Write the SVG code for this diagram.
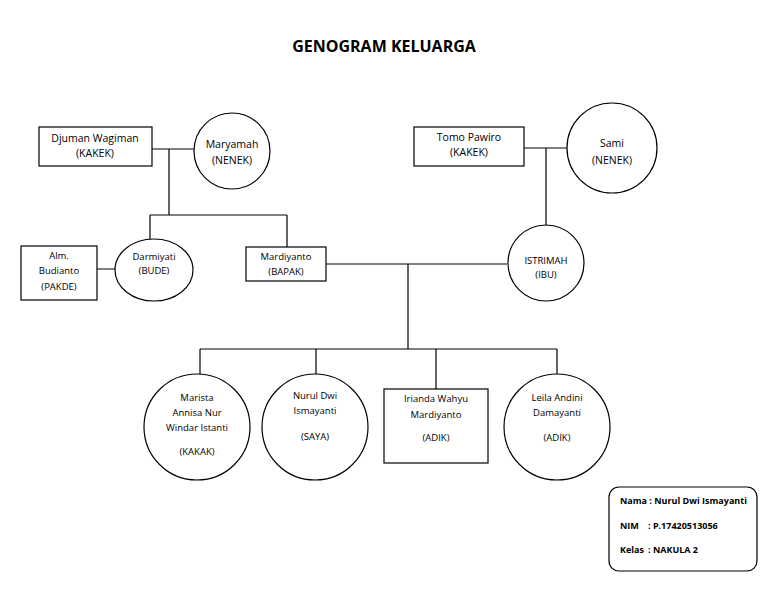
<svg xmlns="http://www.w3.org/2000/svg" width="768" height="594" viewBox="0 0 768 594">
<style>
.s{fill:#fff;stroke:#000;stroke-width:1.2}
.l{fill:none;stroke:#000;stroke-width:1.2}
text{font-family:"Open Sans","Liberation Sans",sans-serif;font-size:9.5px;text-anchor:middle;fill:#000}
.b{font-size:10.5px}
.t{font-size:16px;font-weight:bold}
.i{text-anchor:start;font-weight:bold;font-size:9px}
</style>
<rect width="768" height="594" fill="#fff"/>
<text class="t" x="384" y="52">GENOGRAM KELUARGA</text>
<g id="connectors">
<path class="l" d="M152 149H194M169 149V215M150 215H287M150 215V239M287 215V247M97 269H115"/>
<path class="l" d="M524 148H567M546 148V226M326 264H507M408 264V349M200 349H557M200 349V374M316 349V374M436 349V389M557 349V374"/>
</g>
<g id="djuman"><rect class="s" x="39" y="127" width="113" height="39"/><text class="b" x="95" y="142">Djuman Wagiman</text><text class="b" x="95" y="157">(KAKEK)</text></g>
<g id="maryamah"><circle class="s" cx="232" cy="151" r="38"/><text class="b" x="232" y="148">Maryamah</text><text class="b" x="232" y="164">(NENEK)</text></g>
<g id="tomo"><rect class="s" x="414" y="127" width="110" height="39"/><text class="b" x="469" y="141">Tomo Pawiro</text><text class="b" x="469" y="156">(KAKEK)</text></g>
<g id="sami"><circle class="s" cx="612" cy="148" r="45"/><text class="b" x="612" y="147">Sami</text><text class="b" x="612" y="164">(NENEK)</text></g>
<g id="budianto"><rect class="s" x="21" y="246" width="76" height="54"/><text x="59" y="259">Alm.</text><text x="59" y="274">Budianto</text><text x="59" y="290">(PAKDE)</text></g>
<g id="darmiyati"><ellipse class="s" cx="154" cy="270" rx="39" ry="31"/><text x="154" y="260">Darmiyati</text><text x="154" y="274">(BUDE)</text></g>
<g id="mardiyanto"><rect class="s" x="246" y="247" width="80" height="34"/><text x="286" y="260">Mardiyanto</text><text x="286" y="275">(BAPAK)</text></g>
<g id="istrimah"><circle class="s" cx="546" cy="263" r="38"/><text x="546" y="264">ISTRIMAH</text><text x="546" y="278">(IBU)</text></g>
<g id="marista"><circle class="s" cx="197" cy="427" r="53"/><text x="197" y="401">Marista</text><text x="197" y="416">Annisa Nur</text><text x="197" y="431">Windar Istanti</text><text x="197" y="455">(KAKAK)</text></g>
<g id="nurul"><circle class="s" cx="315" cy="427" r="53"/><text x="315" y="399">Nurul Dwi</text><text x="315" y="414">Ismayanti</text><text x="315" y="440">(SAYA)</text></g>
<g id="irianda"><rect class="s" x="384" y="389" width="104" height="74"/><text x="436" y="402">Irianda Wahyu</text><text x="436" y="418">Mardiyanto</text><text x="436" y="441">(ADIK)</text></g>
<g id="leila"><circle class="s" cx="557" cy="427" r="53"/><text x="557" y="401">Leila Andini</text><text x="557" y="416">Damayanti</text><text x="557" y="441">(ADIK)</text></g>
<g id="info"><rect class="s" x="609" y="487" width="148" height="84" rx="10"/><text class="i" x="620" y="504">Nama : Nurul Dwi Ismayanti</text><text class="i" x="620" y="529">NIM</text><text class="i" x="648" y="529">: P.17420513056</text><text class="i" x="620" y="553">Kelas</text><text class="i" x="648" y="553">: NAKULA 2</text></g>
</svg>
